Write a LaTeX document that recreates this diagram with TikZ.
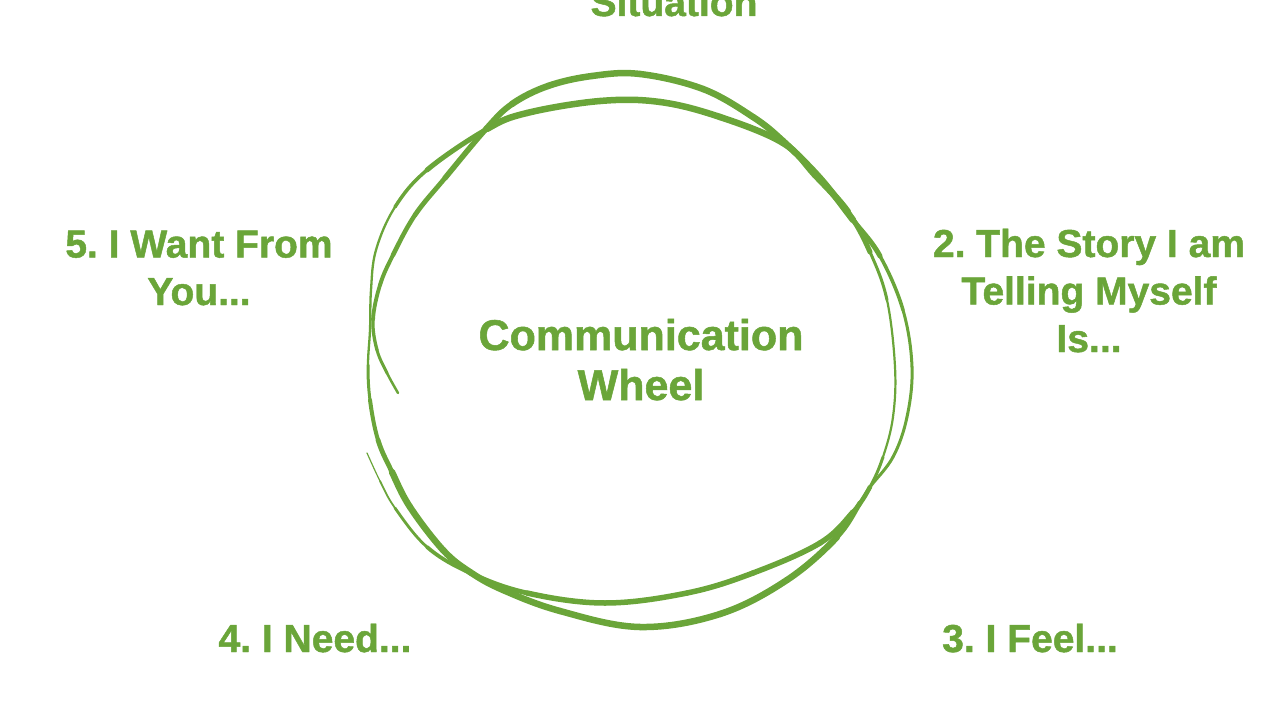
\documentclass[tikz,border=0pt]{standalone}
\usepackage{fontspec}
\setmainfont{Liberation Sans}[BoldFeatures={FakeBold=1.2}]
\usetikzlibrary{calc}
\definecolor{wgreen}{RGB}{106,165,57}
\frenchspacing
\begin{document}
\begin{tikzpicture}[x=1pt,y=-1pt,
  brush/.style={draw=wgreen, line cap=round, line join=round},
  lbl/.style={text=wgreen, font=\fontsize{39}{47.5}\selectfont\bfseries, align=center, inner sep=0pt, anchor=base},
  ttl/.style={text=wgreen, font=\fontsize{43}{50}\selectfont\bfseries, align=center, inner sep=0pt, anchor=base}]
\useasboundingbox (0,0) rectangle (1280,720);
% points of the hand-drawn double loop, in drawing order
\foreach \n/\x/\y in {1/367/453, 2/380/481, 3/395/508, 4/427/547, 5/470/573, 6/527/593, 7/605/603,
  8/687/593, 9/753/573, 10/820/543, 11/853/512, 12/870/487, 13/883/457, 14/893/417, 15/895/367,
  16/887/300, 17/870/252, 18/848/212, 19/815/175, 20/783/143, 21/720/117, 22/660/102, 23/600/101,
  24/527/113, 25/487/129, 26/427/170, 27/395/207, 28/376/250, 29/371/290, 30/370/330, 31/368/365,
  32/370/400, 33/378/440, 34/392/472, 35/410/507, 36/443/550, 37/470/572, 38/503/590, 39/560/611,
  40/640/627, 41/720/614, 42/787/580, 43/837/537, 44/860/503, 45/870/487, 46/893/457, 47/907/417,
  48/912/367, 49/903/310, 50/880/256, 51/853/220, 52/820/178, 53/783/141, 54/753/117, 55/703/89,
  56/640/74, 57/592/76, 58/548/86, 59/512/104, 60/486/129, 61/445/178, 62/415/215, 63/393/255,
  64/380/285, 65/373/320, 66/377/350, 67/387/373, 68/398/393}
  \coordinate (p\n) at (\x,\y);
% brush stroke, segment by segment with varying width
\foreach \i/\w in {1/1.2, 2/1.8, 3/2.8, 4/3.8, 5/4.8, 6/5.5, 7/5.5, 8/5.5, 9/5.5, 10/5.5, 11/4.5,
  12/3, 13/2.2, 14/2.2, 15/2.2, 16/3, 17/5, 18/6.5, 19/6.5, 20/6.5, 21/6.5, 22/6.5, 23/6.5, 24/6.5,
  25/5, 26/3.5, 27/2.3, 28/2.3, 29/2.3, 30/2.3, 31/3, 32/4, 33/4.8, 34/6.5, 35/6.5, 36/6.5, 37/6.5,
  38/6.5, 39/6.5, 40/6.5, 41/6.5, 42/6.5, 43/5, 44/3.5, 45/3, 46/3, 47/3, 48/3, 49/3.5, 50/5,
  51/6.5, 52/6.5, 53/6.5, 54/6.5, 55/6.5, 56/6.5, 57/6.5, 58/6.5, 59/6, 60/5.5, 61/4.8, 62/4.5,
  63/4, 64/3.8, 65/3.3, 66/3, 67/2.5}{
  \pgfmathtruncatemacro{\h}{max(\i-1,1)}
  \pgfmathtruncatemacro{\j}{\i+1}
  \pgfmathtruncatemacro{\k}{min(\i+2,68)}
  \draw[brush, line width=\w pt] (p\i) .. controls ($(p\i)+0.17*(p\j)-0.17*(p\h)$) and ($(p\j)-0.17*(p\k)+0.17*(p\i)$) .. (p\j);
}
% labels
\node[lbl] (sit) at (674,16) {Situation};
\node[ttl] (center) at (641,400) {Communication\\Wheel};
\node[lbl] (story) at (1089,352) {2. The Story I am\\Telling Myself\\Is...};
\node[lbl] (want) at (199,305) {5. I Want From\\You...};
\node[lbl] (need) at (315,652) {4. I Need...};
\node[lbl] (feel) at (1030,652) {3. I Feel...};
\end{tikzpicture}
\end{document}
